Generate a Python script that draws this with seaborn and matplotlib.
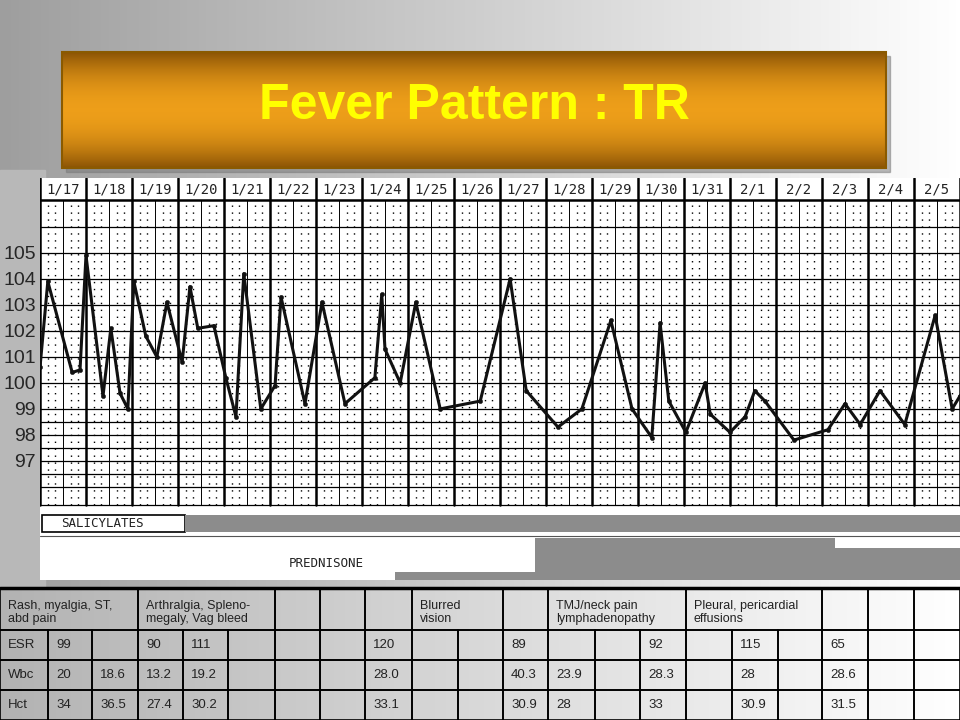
import numpy as np
import pandas as pd
import matplotlib
matplotlib.use("Agg")
import matplotlib.pyplot as plt
import seaborn as sns
from matplotlib.patches import Rectangle

sns.set_style("white")
plt.rcParams['font.family'] = ['Liberation Sans', 'DejaVu Sans']

dates = ["1/17","1/18","1/19","1/20","1/21","1/22","1/23","1/24","1/25","1/26",
         "1/27","1/28","1/29","1/30","1/31","2/1","2/2","2/3","2/4","2/5"]
day = [0.0,0.17,0.70,0.87,1.00,1.37,1.54,1.74,1.91,2.04,2.30,2.54,2.76,3.09,3.26,3.43,3.78,
       4.04,4.26,4.43,4.80,5.11,5.24,5.76,6.13,6.63,7.28,7.43,7.50,7.83,8.17,8.70,9.57,
       10.22,10.57,11.26,11.78,12.41,12.87,13.30,13.48,13.67,14.04,14.46,14.57,15.00,15.33,
       15.54,15.76,16.39,17.13,17.50,17.83,18.26,18.80,19.46,19.83,20.0]
temp = [100.6,103.9,100.4,100.5,104.9,99.5,102.1,99.6,99.0,103.9,101.8,101.0,103.1,100.8,103.7,102.1,102.2,
        100.2,98.7,104.2,99.0,99.9,103.3,99.2,103.1,99.2,100.2,103.4,101.3,100.0,103.1,99.0,99.3,
        104.0,99.7,98.3,99.0,102.4,99.0,97.9,102.3,99.3,98.1,100.0,98.8,98.1,98.7,
        99.7,99.3,97.8,98.2,99.2,98.4,99.7,98.4,102.6,99.0,99.5]
ytick_vals = [97, 98, 99, 100, 101, 102, 103, 104, 105]

salicylate_start = 3.15
pred_x = [7.72, 10.76, 17.28, 20.0]
pred_top = [92.73, 94.04, 93.65]

col_edges = [0,48,92,138,183,228,275,320,365,412,458,503,548,595,640,686,732,778,822,868,914,960]
header_cells = [(0,3,"Rash, myalgia, ST,\nabd pain"),(3,6,"Arthralgia, Spleno-\nmegaly, Vag bleed"),
                (6,7,""),(7,8,""),(8,9,""),(9,11,"Blurred\nvision"),(11,12,""),
                (12,15,"TMJ/neck pain\nlymphadenopathy"),(15,18,"Pleural, pericardial\neffusions"),
                (18,19,""),(19,20,""),(20,21,"")]
esr = ["ESR","99","","90","111","","","","120","","","89","","","92","","115","","65","",""]
wbc = ["Wbc","20","18.6","13.2","19.2","","","","28.0","","","40.3","23.9","","28.3","","28","","28.6","",""]
hct = ["Hct","34","36.5","27.4","30.2","","","","33.1","","","30.9","28","","33","","30.9","","31.5","",""]

fig = plt.figure(figsize=(9.6, 7.2), dpi=100)

# background pixel axes
bg = fig.add_axes([0, 0, 1, 1])
bg.set_xlim(0, 960); bg.set_ylim(720, 0); bg.axis('off')
grad = np.linspace(0.62, 1.0, 256)[None, :]
grad = np.clip(grad + np.linspace(0, 0.1, 100)[:, None] * 0, 0, 1)
bg.imshow(np.dstack([grad]*3), extent=[0, 960, 720, 0], aspect='auto', zorder=0)
bg.add_patch(Rectangle((0, 170), 45, 420, color='#b8b8b8', zorder=1))

# title box with gold gradient
gy = np.abs(np.linspace(-1, 1, 100))
gold_c = np.array([0.93, 0.62, 0.10]); gold_e = np.array([0.55, 0.33, 0.02])
img = (gold_c[None, :] * (1 - gy[:, None]**2) + gold_e[None, :] * gy[:, None]**2)[:, None, :]
img = np.repeat(img, 10, axis=1)
bg.add_patch(Rectangle((66, 56), 824, 116, color='#777777', alpha=0.5, zorder=1))
bg.imshow(img, extent=[62, 886, 168, 52], aspect='auto', zorder=2)
bg.add_patch(Rectangle((62, 52), 824, 116, fill=False, ec='#8a5a00', lw=1.5, zorder=3))
bg.text(474, 106, "Fever Pattern : TR", ha='center', va='center', fontsize=36,
        fontweight='bold', color='#ffff00', zorder=4)

# table
tgrad = np.linspace(0.70, 1.0, 256)[None, :]
bg.imshow(np.dstack([tgrad]*3), extent=[0, 960, 720, 588], aspect='auto', zorder=2)
rows_y = [588, 630, 660, 690, 720]
for c0, c1, txt in header_cells:
    x0, x1 = col_edges[c0], col_edges[c1]
    bg.add_patch(Rectangle((x0, 588), x1 - x0, 42, fill=False, ec='black', lw=1.2, zorder=3))
    bg.text(x0 + 8, 600, txt, ha='left', va='top', fontsize=9, color='#222222', zorder=4, linespacing=1.1)
for r, row in enumerate([esr, wbc, hct]):
    y0 = rows_y[r + 1]
    for c, txt in enumerate(row):
        x0, x1 = col_edges[c], col_edges[c + 1]
        bg.add_patch(Rectangle((x0, y0), x1 - x0, 30, fill=False, ec='black', lw=1.2, zorder=3))
        bg.text(x0 + 8, y0 + 15, txt, ha='left', va='center', fontsize=9.5, color='#222222', zorder=4)
bg.plot([0, 960], [588, 588], color='black', lw=2.5, zorder=5)

# chart axes
ax = fig.add_axes([40/960, 140/720, 920/960, 402/720])
ax.set_facecolor('white')
ax.set_xlim(0, 20); ax.set_ylim(92.42, 107.88)
for t in np.arange(96, 107, 1.0):
    ax.axhline(t, color='black', lw=0.9, zorder=1)
for t in [96.5, 97.5, 98.5]:
    ax.axhline(t, color='black', lw=0.9, zorder=1)
ax.axhline(107.04, color='black', lw=1.8, zorder=1)
ax.axhline(95.31, color='black', lw=0.9, zorder=1)
for d in range(21):
    ax.plot([d, d], [95.31, 107.88], color='black', lw=1.8, zorder=2)
    if d < 20:
        ax.plot([d + 0.5, d + 0.5], [95.31, 107.04], color='black', lw=0.7, zorder=1)
        for k in [1, 2, 4, 5]:
            ax.plot([d + k/6, d + k/6], [95.31, 107.04], color='black', lw=1.0,
                    ls=(0, (1, 4)), zorder=1)
        ax.text(d + 0.5, 107.45, dates[d], ha='center', va='center', fontsize=10,
                family='DejaVu Sans Mono', color='#222222')

df = pd.DataFrame({"day": day, "temp": temp})
sns.lineplot(data=df, x="day", y="temp", sort=False, color='#111111', lw=2.2, ax=ax, zorder=5)
sns.scatterplot(data=df, x="day", y="temp", color='#111111', s=10, ax=ax, zorder=6, edgecolor=None)

# medication bands
ax.add_patch(Rectangle((0.05, 94.27), salicylate_start - 0.05, 0.65, fill=False, ec='black', lw=1.2))
ax.text(0.45, 94.6, "SALICYLATES", va='center', fontsize=9, family='DejaVu Sans Mono', color='#222222')
ax.fill_between([salicylate_start, 20], 94.27, 94.92, color='#8c8c8c', lw=0)
ax.axhline(94.1, color='#555555', lw=0.8)
for i in range(3):
    ax.fill_between([pred_x[i], pred_x[i + 1]], 92.42, pred_top[i], color='#8c8c8c', lw=0)
ax.text(5.4, 93.05, "PREDNISONE", va='center', fontsize=9, family='DejaVu Sans Mono', color='#222222')

ax.set_xticks([])
ax.set_yticks(ytick_vals)
ax.set_yticklabels([str(v) for v in ytick_vals], fontsize=14)
ax.tick_params(axis='y', length=0, pad=3)
ax.set_xlabel(""); ax.set_ylabel("")
for s in ax.spines.values():
    s.set_visible(False)

fig.savefig("out.png", dpi=100)
